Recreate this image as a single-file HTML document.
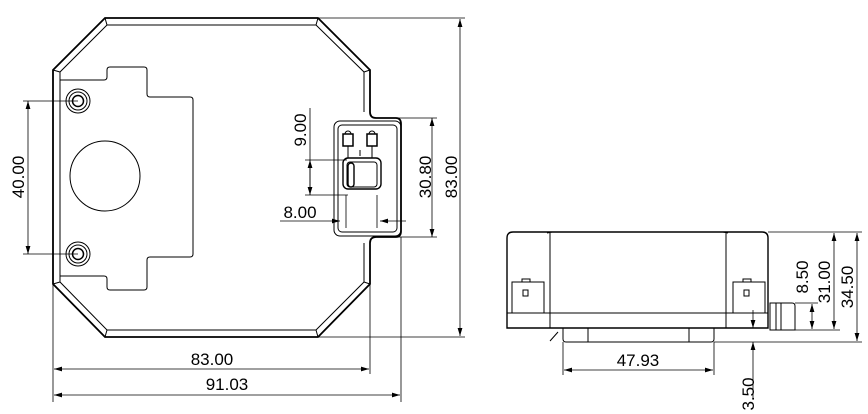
<!DOCTYPE html><html><head><style>body{margin:0;background:#fff}svg{display:block}text{font-family:"Liberation Sans",sans-serif;font-size:17px;fill:#000}</style></head><body>
<svg width="868" height="414" viewBox="0 0 868 414" fill="none" stroke="#000" stroke-width="1">
<defs><marker id="a" viewBox="0 0 10 6" refX="10" refY="3" markerWidth="10" markerHeight="6" orient="auto-start-reverse"><path d="M0,0L10,3L0,6z" fill="#000" stroke="none"/></marker></defs>
<!-- body outline -->
<path d="M105,18 L318,18 L370,70 L370,112 Q370,118 376,118 L396,118 Q401,118 401,124 L401,231 Q401,237 396,237 L376,237 Q370,237 370,243 L370,284 L318,337 L105,337 L53,284 L53,70 Z" stroke-width="1.8"/>
<path d="M364,112 L364,72 L316,25 L107,25 L60,72 L60,282 L107,330 L316,330 L364,282 L364,243" stroke-width="1"/>
<path d="M53,70 L60,72 M105,18 L107,25 M318,18 L316,25 M370,70 L364,72 M370,284 L364,282 M318,337 L316,330 M105,337 L107,330 M53,284 L60,282"/>
<!-- tab inner -->
<rect x="334" y="121" width="67" height="115" rx="6"/>
<rect x="338" y="125" width="59" height="107" rx="4"/>
<rect x="343" y="158" width="38" height="31" rx="5" stroke-width="1.4"/>
<rect x="347" y="162" width="30" height="25" rx="3"/>
<rect x="348" y="163" width="6" height="24" rx="3" stroke-width="1.4"/>
<rect x="343" y="134" width="10" height="12" stroke-width="1.5"/><rect x="367" y="134" width="10" height="12" stroke-width="1.5"/>
<path d="M345,134 a3,3 0 0 1 6,0 M369,134 a3,3 0 0 1 6,0 M348,146 V158 M372,146 V158 M360,150 V156"/>
<!-- plate -->
<path d="M60,80 L104,80 Q107,80 107,77 L107,70 Q107,67 110,67 L144,67 Q147,67 147,70 L147,94 Q147,97 150,97 L190,97 Q193,97 193,100 L193,254 Q193,257 190,257 L150,257 Q147,257 147,260 L147,287 Q147,290 144,290 L110,290 Q107,290 107,287 L107,279 Q107,276 104,276 L60,276"/>
<circle cx="105" cy="176" r="35"/>
<circle cx="78" cy="101" r="12"/><circle cx="78" cy="101" r="9"/><circle cx="78" cy="101" r="5.5" stroke-width="1.5"/>
<circle cx="78" cy="254" r="12"/><circle cx="78" cy="254" r="9"/><circle cx="78" cy="254" r="5.5" stroke-width="1.5"/>
<!-- dims left view -->
<g stroke-width="0.8">
<path d="M23,101 H78 M23,254 H78"/><path d="M28,101 V254" marker-start="url(#a)" marker-end="url(#a)"/>
<path d="M310,108 V195 M305,160 H347 M305,195 H348"/><path d="M310,160 V195" marker-start="url(#a)" marker-end="url(#a)"/>
<path d="M280,221 H340" marker-end="url(#a)"/><path d="M406,221 H380" marker-end="url(#a)"/><path d="M346,195 V228 M377,195 V228"/>
<path d="M398,118 H437 M398,237 H437"/><path d="M432,118 V237" marker-start="url(#a)" marker-end="url(#a)"/>
<path d="M318,18 H465 M318,337 H465"/><path d="M460,19 V336" marker-start="url(#a)" marker-end="url(#a)"/>
<path d="M53,284 V402 M370,284 V374 M401,237 V402"/>
<path d="M54,369 H369" marker-start="url(#a)" marker-end="url(#a)"/>
<path d="M54,395 H400" marker-start="url(#a)" marker-end="url(#a)"/>
</g>
<text x="212" y="365" text-anchor="middle" stroke="none">83.00</text>
<text x="227" y="390" text-anchor="middle" stroke="none">91.03</text>
<text transform="translate(24,177) rotate(-90)" text-anchor="middle" stroke="none">40.00</text>
<text transform="translate(306,130) rotate(-90)" text-anchor="middle" stroke="none">9.00</text>
<text x="300" y="218" text-anchor="middle" stroke="none">8.00</text>
<text transform="translate(431,177) rotate(-90)" text-anchor="middle" stroke="none">30.80</text>
<text transform="translate(457,177) rotate(-90)" text-anchor="middle" stroke="none">83.00</text>
<!-- side view -->
<path d="M513,232 L762,232 Q768,232 768,238 L768,328 L507,328 L507,238 Q507,232 513,232 Z" stroke-width="1.4"/>
<path d="M507,313 H768 M550,233 V328 M726,233 V328 M547,233 L552,232 M723,232 L728,233"/>
<rect x="512" y="282" width="32" height="31"/><rect x="733" y="282" width="32" height="31"/>
<rect x="523" y="290" width="5" height="6"/><rect x="744" y="290" width="5" height="6"/>
<path d="M522,282 V279 H530 V282 M743,282 V279 H751 V282"/>
<path d="M563,328 V339 Q563,342 566,342 L711,342 Q714,342 714,339 L714,328 M588,328 V342 M689,328 V342"/>
<path d="M770,303 H792 Q795,303 795,306 V330 H770 Z M776,303 V330 M781,303 V330"/>
<path d="M558,332 L550,341"/>
<g stroke-width="0.8">
<path d="M768,232 H862 M795,303 H818 M795,330 H840 M714,342 H862"/>
<path d="M812,304 V329" marker-start="url(#a)" marker-end="url(#a)"/>
<path d="M834,233 V329" marker-start="url(#a)" marker-end="url(#a)"/>
<path d="M857,233 V341" marker-start="url(#a)" marker-end="url(#a)"/>
<path d="M563,342 V375 M714,342 V375"/><path d="M564,370 H713" marker-start="url(#a)" marker-end="url(#a)"/>
<path d="M753,310 V328" marker-end="url(#a)"/><path d="M753,398 V342" marker-end="url(#a)"/>
</g>
<text x="638" y="366" text-anchor="middle" stroke="none">47.93</text>
<text transform="translate(808,277) rotate(-90)" text-anchor="middle" stroke="none">8.50</text>
<text transform="translate(830,282) rotate(-90)" text-anchor="middle" stroke="none">31.00</text>
<text transform="translate(853,287) rotate(-90)" text-anchor="middle" stroke="none">34.50</text>
<text transform="translate(754,394) rotate(-90)" text-anchor="middle" stroke="none">3.50</text>
</svg></body></html>
